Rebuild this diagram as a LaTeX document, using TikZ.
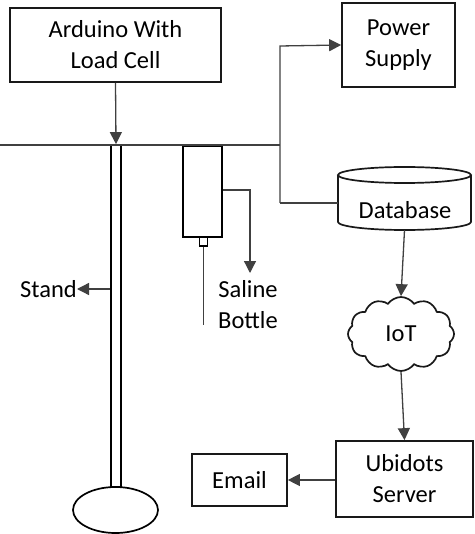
\documentclass[tikz,border=0pt]{standalone}
\usepackage{fontspec}
\setmainfont{Carlito}
\usetikzlibrary{arrows.meta,shapes.symbols,shapes.geometric}
\begin{document}
\begin{tikzpicture}[x=1pt,y=-1pt,
  box/.style={draw=black!90,line width=1.7pt,rectangle,align=center,inner sep=0pt},
  conn/.style={draw=black!75,line width=1.3pt},
  tip/.style={-{Triangle[length=12pt,width=12pt]}},
  lbl/.style={align=center,inner sep=0pt},
  every node/.style={font=\fontsize{24.5}{31}\selectfont}]
\useasboundingbox (0,0) rectangle (474,534);
% boxes
\node[box,minimum width=211pt,minimum height=74pt] (ard) at (115.5,45) {Arduino With\\Load Cell};
\node[box,minimum width=113pt,minimum height=84pt] (ps) at (398.5,45) {Power\\Supply};
\node[box,minimum width=137pt,minimum height=76pt] (ubi) at (404.5,479) {Ubidots\\Server};
\node[box,minimum width=95pt,minimum height=52pt] (em) at (239.5,480) {Email};
% database cylinder
\node[lbl,minimum width=133pt,minimum height=63pt] (db) at (404.5,198.5) {};
\node[lbl] (dbt) at (405,210) {Database};
\draw[line width=1.7pt,draw=black!90] (338,175) -- (338,222) arc[start angle=180,end angle=360,x radius=66.5pt,y radius=8pt] -- (471,175);
\draw[line width=1.7pt,draw=black!90] (404.5,175) ellipse[x radius=66.5pt,y radius=8pt];
% cloud
\node[cloud,draw=black!90,line width=1.7pt,cloud puffs=12,cloud puff arc=110,aspect=1.4,minimum width=106pt,minimum height=74pt,inner sep=0pt] (iot) at (401,334) {IoT};
% stand
\node[draw=black,line width=1.7pt,minimum width=10pt,minimum height=342pt,inner sep=0pt] (pole) at (116,316) {};
\node[draw=black,line width=1.7pt,ellipse,minimum width=85pt,minimum height=46pt,inner sep=0pt] (base) at (115.5,510) {};
\node[lbl,anchor=east] (stand) at (77,289) {Stand};
% bottle
\node[draw=black,line width=1.7pt,minimum width=39pt,minimum height=91pt,inner sep=0pt] (bottle) at (202.5,191.5) {};
\draw[black,line width=2.8pt] (bottle.north west) -- (bottle.north east);
\node[draw=black,line width=1.4pt,minimum width=8pt,minimum height=9pt,inner sep=0pt] (cap) at (203.5,241.5) {};
\coordinate (tube) at (203.5,325);
\draw[conn] (cap.south) -- (tube);
\node[lbl] (sal) at (248,305) {Saline\\Bottle};
\coordinate (salturn) at (250,190);
\coordinate (salend) at (250,273);
% junctions
\coordinate (left) at (0,145);
\coordinate (jt) at (280,46);
\coordinate (jb) at (280,203);
\coordinate (jm) at (280,145);
% connectors
\draw[conn,tip] (ard.south) -- (pole.north);
\draw[conn] (left) -- (jm);
\draw[conn,tip] (jb) -- (jt) -- (ps.west);
\draw[conn] (jb) -- (db.west |- jb);
\draw[conn,tip] (bottle.east |- salturn) -- (salturn) -- (salend);
\draw[conn,tip] (pole.west |- stand) -- (stand.east);
\draw[conn,tip] (db.south) -- (iot.north);
\draw[conn,tip] (iot.south) -- (ubi.north);
\draw[conn,tip] (ubi.west |- em) -- (em.east);
\end{tikzpicture}
\end{document}
